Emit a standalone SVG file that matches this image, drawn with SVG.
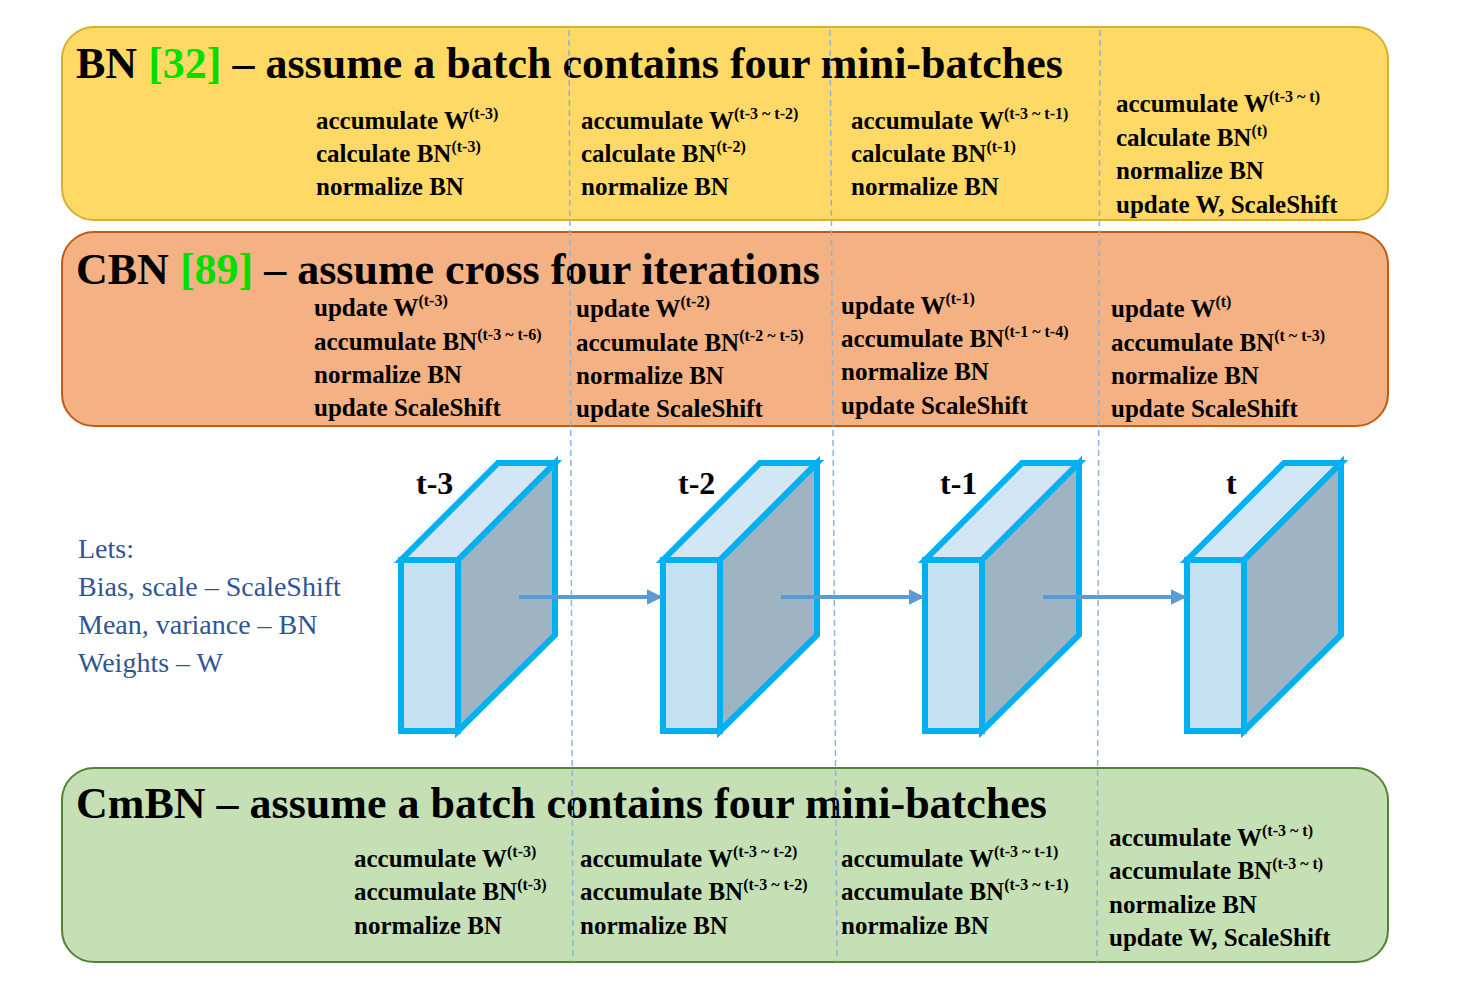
<svg xmlns="http://www.w3.org/2000/svg" width="1468" height="984" viewBox="0 0 1468 984">
<style>
text{font-family:"Liberation Serif","Times New Roman",serif;fill:#000}
.t{font-size:44px;font-weight:bold}
.b{font-size:25px;font-weight:bold}
.s{font-size:16px}
.g{fill:#00E000}
.l{font-size:28px;fill:#2F5597}
.front{fill:#C5E0F2;stroke:#00B0F0;stroke-width:6;stroke-linejoin:miter}
.top{fill:#D2E6F5;stroke:#00B0F0;stroke-width:6}
.side{fill:#9FB4C2;stroke:#00B0F0;stroke-width:6}
.dash{stroke:#8FB4DC;stroke-width:1.5;stroke-dasharray:6,4}
.arr{stroke:#5B9BD5;stroke-width:4;marker-end:url(#ah)}
</style>
<defs><marker id="ah" viewBox="0 0 10 10" refX="9" refY="5" markerWidth="4" markerHeight="4" orient="auto"><path d="M0,0L10,5L0,10z" fill="#5B9BD5"/></marker></defs>
<rect width="1468" height="984" fill="#fff"/>
<g id="bn">
<rect x="62" y="27" width="1326" height="193" rx="32" fill="#FFD966" stroke="#D6B030" stroke-width="2"/>
<text x="76" y="78" class="t">BN <tspan class="g">[32]</tspan> – assume a batch contains four mini-batches</text>
<g class="b">
<text x="316" y="129">accumulate W<tspan class="s" dy="-10">(t-3)</tspan></text>
<text x="316" y="162">calculate BN<tspan class="s" dy="-10">(t-3)</tspan></text>
<text x="316" y="195">normalize  BN</text>
<text x="581" y="129">accumulate W<tspan class="s" dy="-10">(t-3 ~ t-2)</tspan></text>
<text x="581" y="162">calculate BN<tspan class="s" dy="-10">(t-2)</tspan></text>
<text x="581" y="195">normalize  BN</text>
<text x="851" y="129">accumulate W<tspan class="s" dy="-10">(t-3 ~ t-1)</tspan></text>
<text x="851" y="162">calculate BN<tspan class="s" dy="-10">(t-1)</tspan></text>
<text x="851" y="195">normalize  BN</text>
<text x="1116" y="112">accumulate W<tspan class="s" dy="-10">(t-3 ~ t)</tspan></text>
<text x="1116" y="146">calculate BN<tspan class="s" dy="-10">(t)</tspan></text>
<text x="1116" y="179">normalize  BN</text>
<text x="1116" y="213">update W,  ScaleShift</text>
</g></g>
<g id="cbn">
<rect x="62" y="232" width="1326" height="194" rx="32" fill="#F4B183" stroke="#C55A11" stroke-width="2"/>
<text x="76" y="284" class="t">CBN <tspan class="g">[89]</tspan> – assume cross four iterations</text>
<g class="b">
<text x="314" y="316">update W<tspan class="s" dy="-10">(t-3)</tspan></text>
<text x="314" y="350">accumulate BN<tspan class="s" dy="-10">(t-3 ~ t-6)</tspan></text>
<text x="314" y="383">normalize  BN</text>
<text x="314" y="416">update ScaleShift</text>
<text x="576" y="317">update W<tspan class="s" dy="-10">(t-2)</tspan></text>
<text x="576" y="351">accumulate BN<tspan class="s" dy="-10">(t-2 ~ t-5)</tspan></text>
<text x="576" y="384">normalize  BN</text>
<text x="576" y="417">update ScaleShift</text>
<text x="841" y="314">update W<tspan class="s" dy="-10">(t-1)</tspan></text>
<text x="841" y="347">accumulate BN<tspan class="s" dy="-10">(t-1 ~ t-4)</tspan></text>
<text x="841" y="380">normalize  BN</text>
<text x="841" y="414">update ScaleShift</text>
<text x="1111" y="317">update W<tspan class="s" dy="-10">(t)</tspan></text>
<text x="1111" y="351">accumulate BN<tspan class="s" dy="-10">(t ~ t-3)</tspan></text>
<text x="1111" y="384">normalize  BN</text>
<text x="1111" y="417">update ScaleShift</text>
</g></g>
<g id="lets" class="l">
<text x="78" y="558" class="l">Lets:</text>
<text x="78" y="596" class="l">Bias, scale – ScaleShift</text>
<text x="78" y="634" class="l">Mean, variance – BN</text>
<text x="78" y="672" class="l">Weights – W</text>
</g>
<g id="cube-t3" transform="translate(0,0)">
<polygon class="top" points="401,560 458,560 555,463 498,463"/>
<polygon class="side" points="458,560 555,463 555,635 458,731"/>
<rect class="front" x="401" y="560" width="57" height="171"/>
<text x="416" y="494" style="font-size:32px;font-weight:bold">t-3</text>
</g>
<g id="cube-t2" transform="translate(262,0)">
<polygon class="top" points="401,560 458,560 555,463 498,463"/>
<polygon class="side" points="458,560 555,463 555,635 458,731"/>
<rect class="front" x="401" y="560" width="57" height="171"/>
<text x="416" y="494" style="font-size:32px;font-weight:bold">t-2</text>
</g>
<g id="cube-t1" transform="translate(524,0)">
<polygon class="top" points="401,560 458,560 555,463 498,463"/>
<polygon class="side" points="458,560 555,463 555,635 458,731"/>
<rect class="front" x="401" y="560" width="57" height="171"/>
<text x="416" y="494" style="font-size:32px;font-weight:bold">t-1</text>
</g>
<g id="cube-t" transform="translate(786,0)">
<polygon class="top" points="401,560 458,560 555,463 498,463"/>
<polygon class="side" points="458,560 555,463 555,635 458,731"/>
<rect class="front" x="401" y="560" width="57" height="171"/>
<text x="440" y="494" style="font-size:32px;font-weight:bold">t</text>
</g>
<g id="cmbn">
<rect x="62" y="768" width="1326" height="194" rx="32" fill="#C5E0B4" stroke="#548235" stroke-width="2"/>
<text x="76" y="818" class="t">CmBN – assume a batch contains four mini-batches</text>
<g class="b">
<text x="354" y="867">accumulate W<tspan class="s" dy="-10">(t-3)</tspan></text>
<text x="354" y="900">accumulate BN<tspan class="s" dy="-10">(t-3)</tspan></text>
<text x="354" y="934">normalize  BN</text>
<text x="580" y="867">accumulate W<tspan class="s" dy="-10">(t-3 ~ t-2)</tspan></text>
<text x="580" y="900">accumulate BN<tspan class="s" dy="-10">(t-3 ~ t-2)</tspan></text>
<text x="580" y="934">normalize  BN</text>
<text x="841" y="867">accumulate W<tspan class="s" dy="-10">(t-3 ~ t-1)</tspan></text>
<text x="841" y="900">accumulate BN<tspan class="s" dy="-10">(t-3 ~ t-1)</tspan></text>
<text x="841" y="934">normalize  BN</text>
<text x="1109" y="846">accumulate W<tspan class="s" dy="-10">(t-3 ~ t)</tspan></text>
<text x="1109" y="879">accumulate BN<tspan class="s" dy="-10">(t-3 ~ t)</tspan></text>
<text x="1109" y="913">normalize  BN</text>
<text x="1109" y="946">update W,  ScaleShift</text>
</g></g>
<g id="connectors">
<line class="arr" x1="519" y1="597" x2="661" y2="597"/>
<line class="arr" x1="781" y1="597" x2="923" y2="597"/>
<line class="arr" x1="1043" y1="597" x2="1185" y2="597"/>
<line class="dash" x1="569" y1="30" x2="573" y2="962"/>
<line class="dash" x1="830" y1="30" x2="837" y2="962"/>
<line class="dash" x1="1100" y1="30" x2="1097" y2="962"/>
</g>
</svg>
